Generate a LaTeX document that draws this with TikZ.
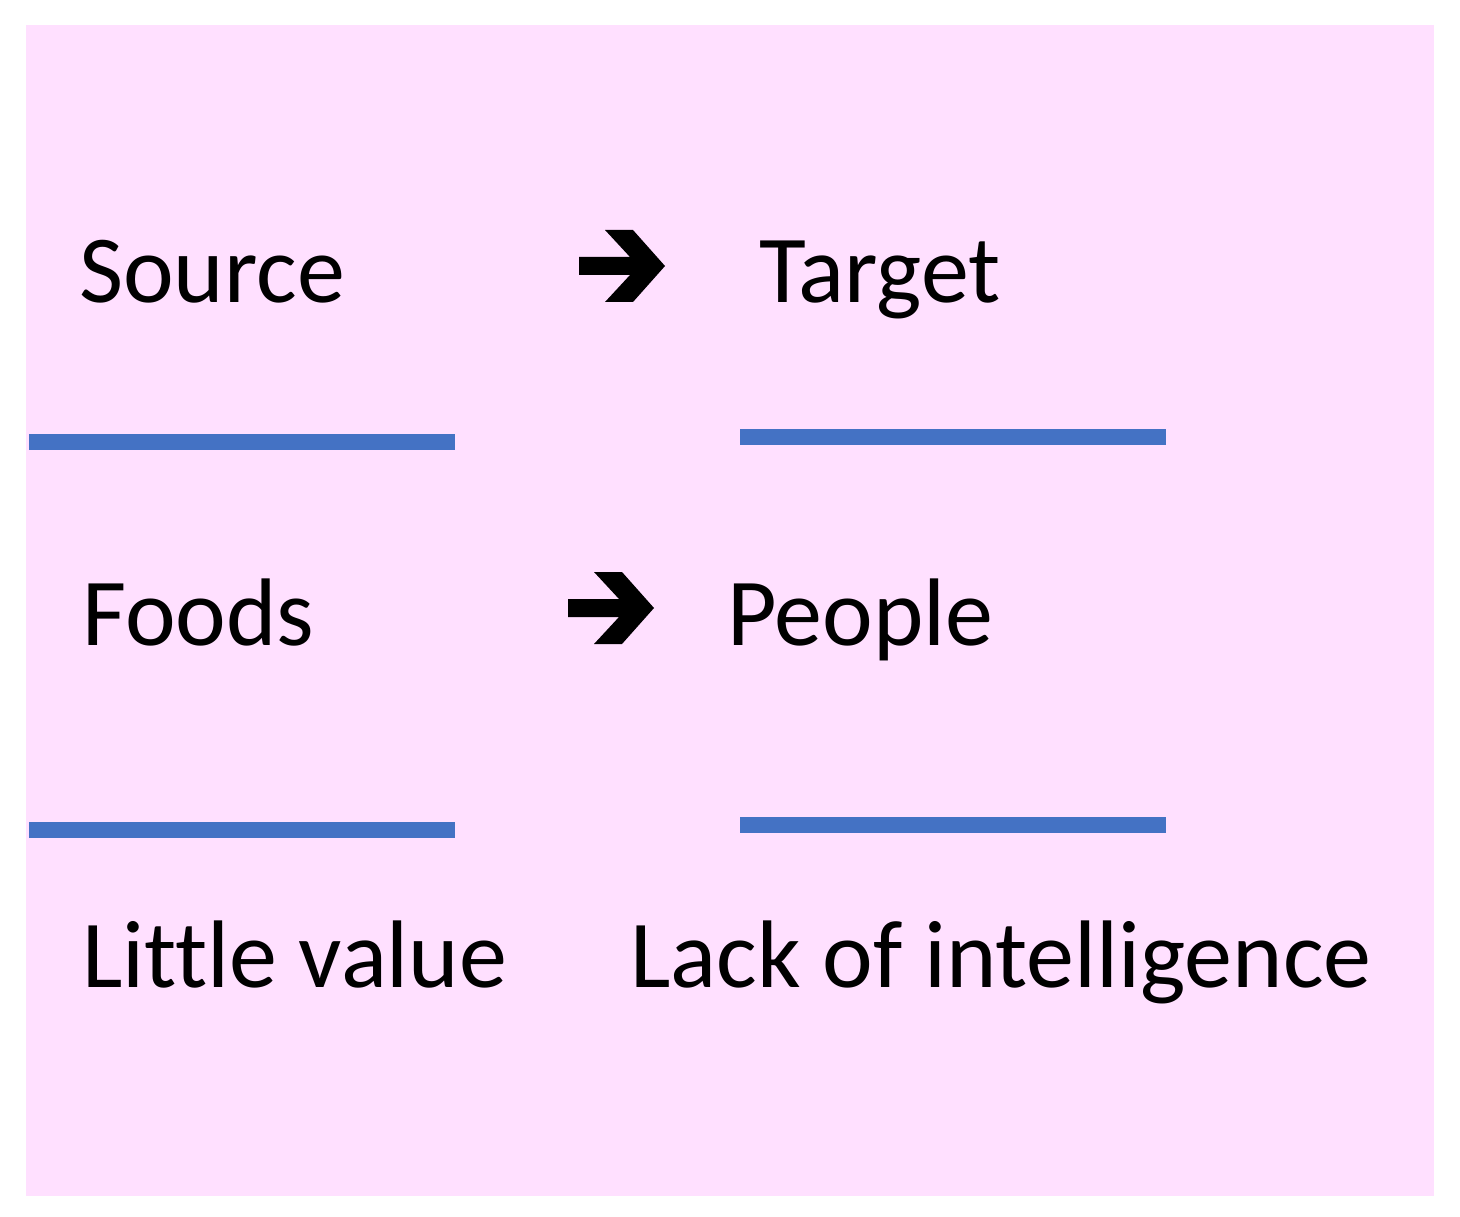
\documentclass[tikz,border=0pt]{standalone}
\usepackage{fontspec}
\setmainfont[Ligatures=NoCommon]{Carlito}
\usepackage{xcolor}
\usepackage{tikz}
\usetikzlibrary{arrows.meta}

\definecolor{slidepink}{RGB}{255,224,255}
\definecolor{ruleblue}{RGB}{68,114,196}

\tikzset{
    word/.style={anchor=base west, inner sep=0pt, font=\fontsize{96}{115}\selectfont},
    rule/.style={line width=16pt, color=ruleblue},
}

% thick block arrow, left end at the given point
\newcommand{\blockarrow}[1]{%
    \fill[shift={#1}] (0,-9) -- (51,-9) -- (26,-36) -- (54,-36) -- (86,0)
        -- (54,36) -- (26,36) -- (51,9) -- (0,9) -- cycle;}

\begin{document}
\begin{tikzpicture}[x=1pt, y=-1pt]
    \useasboundingbox (0,0) rectangle (1460,1217);
    \fill[slidepink] (26,25) rectangle (1434,1196);

    \node[word] (src)     at (79,302)  {Source};
    \node[word] (tgt)     at (759,302) {Target};
    \node[word] (foods)   at (82,645)  {Foods};
    \node[word] (people)  at (727,645) {People};
    \node[word] (lowval)  at (82,987)  {Little value};
    \node[word] (lackint) at (630,987) {Lack of intelligence};

    \blockarrow{(579,266)}
    \blockarrow{(568,608)}

    \draw[rule] (29,442) -- (455,442);
    \draw[rule] (740,437) -- (1166,437);
    \draw[rule] (29,830) -- (455,830);
    \draw[rule] (740,825) -- (1166,825);
\end{tikzpicture}
\end{document}
